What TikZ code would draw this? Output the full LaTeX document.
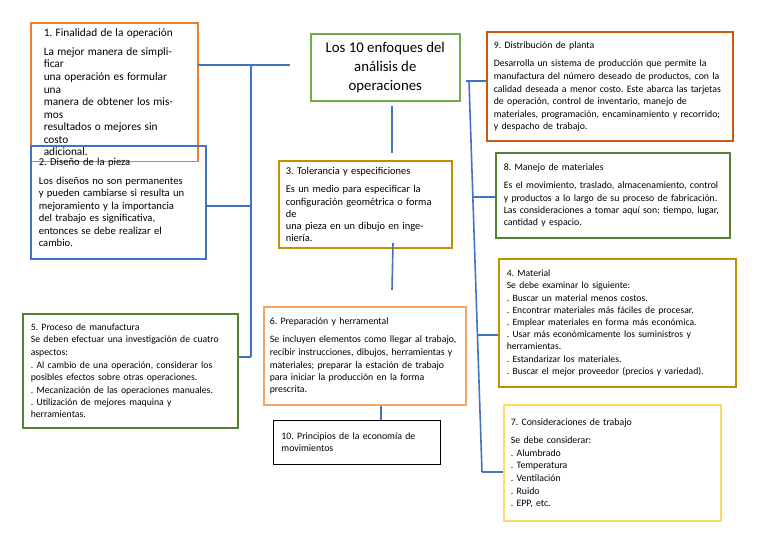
\documentclass[tikz,border=0pt]{standalone}
\usepackage{fontspec}
\setmainfont{Carlito}
\frenchspacing
\definecolor{cor}{HTML}{ED7D31}
\definecolor{cdor}{HTML}{C55A11}
\definecolor{cgr}{HTML}{70AD47}
\definecolor{cdgr}{HTML}{548235}
\definecolor{cbl}{HTML}{4472C4}
\definecolor{cgo}{HTML}{BF9000}
\definecolor{cye}{HTML}{FFD966}
\definecolor{cor2}{HTML}{F4A460}
\tikzset{
 box/.style={draw=#1,line width=1.6pt,anchor=north west,align=left,inner ysep=6pt},
 ln/.style={draw=cbl,line width=1.6pt}
}
\begin{document}
\begin{tikzpicture}[x=1pt,y=-1pt]
\useasboundingbox (0,0) rectangle (768,544);
\node[box=cor,minimum width=167pt,minimum height=101pt,text width=141pt,inner xsep=13pt] (b1) at (30,22) {\fontsize{11.3}{12.6}\selectfont 1. Finalidad de la operación\\[6pt]La mejor manera de simplificar\\una operación es formular una\\manera de obtener los mismos\\resultados o mejores sin costo\\adicional.};
\node[draw=cgr,line width=1.6pt,anchor=north west,minimum width=149pt,minimum height=67pt,align=center,font=\fontsize{14.8}{19}\selectfont] (t) at (310,33) {Los 10 enfoques del\\análisis de\\operaciones};
\node[box=cdor,minimum width=246pt,minimum height=109pt,text width=232pt,inner xsep=7pt] (b9) at (486,31) {\fontsize{9.8}{12.6}\selectfont 9. Distribución de planta\\[6pt]Desarrolla un sistema de producción que permite la\\manufactura del número deseado de productos, con la\\calidad deseada a menor costo. Este abarca las tarjetas\\de operación, control de inventario, manejo de\\materiales, programación, encaminamiento y recorrido;\\y despacho de trabajo.};
\node[box=cbl,minimum width=175pt,minimum height=113pt,text width=159pt,inner xsep=8pt] (b2) at (30,145) {\fontsize{10.6}{12.6}\selectfont 2. Diseño de la pieza\\[6pt]Los diseños no son permanentes\\y pueden cambiarse si resulta un\\mejoramiento y la importancia\\del trabajo es significativa,\\entonces se debe realizar el\\cambio.};
\node[box=cgo,minimum width=173pt,minimum height=76pt,text width=159pt,inner xsep=7pt] (b3) at (278,160) {\fontsize{10.4}{12.6}\selectfont 3. Tolerancia y especificiones\\[6pt]Es un medio para especificar la\\configuración geométrica o forma de\\una pieza en un dibujo en ingeniería.};
\node[box=cdgr,minimum width=234pt,minimum height=85pt,text width=218pt,inner xsep=8pt] (b8) at (495,152) {\fontsize{9.8}{12.6}\selectfont 8. Manejo de materiales\\[6pt]Es el movimiento, traslado, almacenamiento, control\\y productos a lo largo de su proceso de fabricación.\\Las consideraciones a tomar aquí son: tiempo, lugar,\\cantidad y espacio.};
\node[box=cgo,minimum width=237pt,minimum height=128pt,text width=221pt,inner xsep=8pt,inner ysep=4pt] (b4) at (498,258) {\fontsize{9.6}{12.2}\selectfont 4. Material\\Se debe examinar lo siguiente:\\. Buscar un material menos costos.\\. Encontrar materiales más fáciles de procesar.\\. Emplear materiales en forma más económica.\\. Usar más económicamente los suministros y\\herramientas.\\. Estandarizar los materiales.\\. Buscar el mejor proveedor (precios y variedad).};
\node[box=cdgr,minimum width=215pt,minimum height=114pt,text width=199pt,inner xsep=8pt,inner ysep=4pt] (b5) at (22,313) {\fontsize{9.7}{12.6}\selectfont 5. Proceso de manufactura\\Se deben efectuar una investigación de cuatro\\aspectos:\\. Al cambio de una operación, considerar los\\posibles efectos sobre otras operaciones.\\. Mecanización de las operaciones manuales.\\. Utilización de mejores maquina y\\herramientas.};
\node[box=cor2,minimum width=202pt,minimum height=98pt,text width=190pt,inner xsep=6pt] (b6) at (263,306) {\fontsize{9.8}{12.6}\selectfont 6. Preparación y herramental\\[6pt]Se incluyen elementos como llegar al trabajo,\\recibir instrucciones, dibujos, herramientas y\\materiales; preparar la estación de trabajo\\para iniciar la producción en la forma\\prescrita.};
\node[box=black,line width=0.9pt,minimum width=167pt,minimum height=44pt,text width=151pt,inner xsep=8pt] (b10) at (273,420) {\fontsize{9.8}{12.6}\selectfont 10. Principios de la economía de\\movimientos};
\node[box=cye,minimum width=217pt,minimum height=116pt,text width=203pt,inner xsep=7pt] (b7) at (503,404) {\fontsize{9.8}{12.6}\selectfont 7. Consideraciones de trabajo\\[6pt]Se debe considerar:\\. Alumbrado\\. Temperatura\\. Ventilación\\. Ruido\\. EPP, etc.};
% left trunk
\coordinate (la) at (251,65); \coordinate (lb) at (251,357);
\draw[ln] (198,65) -- (290,65);
\draw[ln] (la) -- (lb);
\draw[ln] (b2.east |- 0,206) -- (251,206);
\draw[ln] (b5.east |- lb) -- (lb);
% right trunk
\coordinate (ra) at (469,81); \coordinate (rb) at (482,472);
\draw[ln] (ra) -- (rb);
\draw[ln] (466,81) -- (b9.west |- 0,81);
\draw[ln] (473,197) -- (b8.west |- 0,197);
\draw[ln] (478,335) -- (b4.west |- 0,335);
\draw[ln] (rb) -- (b7.west |- 0,472);
% center
\draw[ln] (392,106) -- (392,153);
\draw[ln] (393,243) -- (392,290);
\draw[ln] (b6.south -| 381,0) -- (b10.north -| 381,0);
\end{tikzpicture}
\end{document}
